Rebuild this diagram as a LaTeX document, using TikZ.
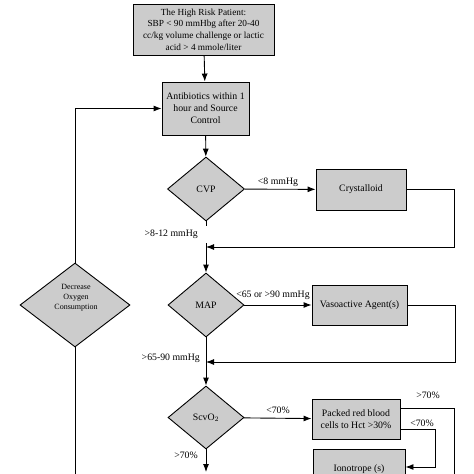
\documentclass[tikz,border=0pt]{standalone}
\usepackage{fontspec}
\setmainfont{Liberation Serif}
\usetikzlibrary{shapes.geometric,arrows.meta}
\begin{document}
\begin{tikzpicture}[x=1pt,y=-1pt,
  every node/.style={font=\fontsize{9.8}{12}\selectfont},
  boxnode/.style={draw, fill=black!20, line width=0.9pt, rectangle, inner sep=1pt, align=center},
  dia/.style={draw, fill=black!20, line width=0.9pt, diamond, inner sep=0pt, align=center},
  lbl/.style={inner sep=1pt, font=\fontsize{9.8}{11}\selectfont},
  arr/.style={line width=0.9pt, -{Latex[length=8pt,width=6pt]}},
  ln/.style={line width=0.9pt}]
\useasboundingbox (0,0) rectangle (474,474);
\clip (0,0) rectangle (474,474);
\fill[white] (0,0) rectangle (474,474);

\node[boxnode, minimum width=141pt, minimum height=51pt, font=\fontsize{9.3}{11.7}\selectfont] (top) at (203.5,29.5)
  {The High Risk Patient:\\SBP < 90 mmHbg after 20-40\\cc/kg volume challenge or lactic\\acid > 4 mmole/liter};
\node[boxnode, minimum width=87pt, minimum height=53pt] (anti) at (205.5,108.5)
  {Antibiotics within 1\\hour and Source\\Control};
\node[dia, minimum width=77pt, minimum height=64pt] (cvp) at (206,189) {CVP};
\node[boxnode, minimum width=90pt, minimum height=41pt] (cry) at (361,189.5) {Crystalloid};
\node[dia, minimum width=76pt, minimum height=64pt] (map) at (206,305) {MAP};
\node[boxnode, minimum width=95pt, minimum height=40pt] (vaso) at (359.5,305) {Vasoactive Agent(s)};
\node[dia, minimum width=76pt, minimum height=63pt] (sev) at (206,417.5) {ScvO$_2$};
\node[boxnode, minimum width=88pt, minimum height=40pt] (prbc) at (356,419) {Packed red blood\\cells to Hct >30\%};
\node[boxnode, minimum width=92pt, minimum height=40pt] (ino) at (359,469) {Ionotrope (s)};
\node[dia, minimum width=110pt, minimum height=84pt] (dec) at (75,305) {};
\node[align=center, font=\fontsize{8}{10}\selectfont] (dect) at (76,298) {Decrease\\Oxygen\\Consumption};

\coordinate (c1) at (454,189.5);
\coordinate (c2) at (454,247);
\coordinate (m1) at (206,247);
\coordinate (s1) at (206,226);
\coordinate (s2) at (206,243);
\coordinate (v1) at (455,305);
\coordinate (v2) at (455,362);
\coordinate (m2) at (206,362);
\coordinate (p1) at (454,408);
\coordinate (p1b) at (454,474);
\coordinate (p0) at (prbc.east |- p1);
\coordinate (q0) at (prbc.east |- 0,429);
\coordinate (q1) at (435,429);
\coordinate (q2) at (435,467);
\coordinate (q3) at (ino.east |- q2);
\coordinate (b1) at (206,472);
\coordinate (d1) at (75,474);
\coordinate (d2) at (75,108.5);

\draw[arr] (top) -- (anti);
\draw[arr] (anti) -- (cvp);
\draw[arr] (cvp) -- (cry);
\node[lbl] (l0) at (278,182) {<8 mmHg};
\draw[arr] (cry.east) -- (c1) -- (c2) -- (m1);
\draw[ln] (cvp.south) -- (s1);
\draw[arr] (s2) -- (map.north);
\node[lbl, anchor=east] (l1) at (199,234) {>8-12 mmHg};
\draw[arr] (map) -- (vaso);
\node[lbl] (l6) at (273,295) {<65 or >90 mmHg};
\draw[arr] (vaso.east) -- (v1) -- (v2) -- (m2);
\draw[arr] (map.south) -- (sev.north);
\node[lbl, anchor=east] (l2) at (201,358) {>65-90 mmHg};
\draw[arr] (sev) -- (prbc);
\node[lbl] (l7) at (278,410) {<70\%};
\draw[ln] (p0) -- (p1) -- (p1b);
\node[lbl] (l3) at (428,395) {>70\%};
\draw[arr] (q0) -- (q1) -- (q2) -- (q3);
\node[lbl] (l4) at (422,423) {<70\%};
\draw[arr] (sev.south) -- (b1);
\node[lbl] (l5) at (186,455) {>70\%};
\draw[ln] (dec.south) -- (d1);
\draw[arr] (dec.north) -- (d2) -- (anti.west);
\end{tikzpicture}
\end{document}
